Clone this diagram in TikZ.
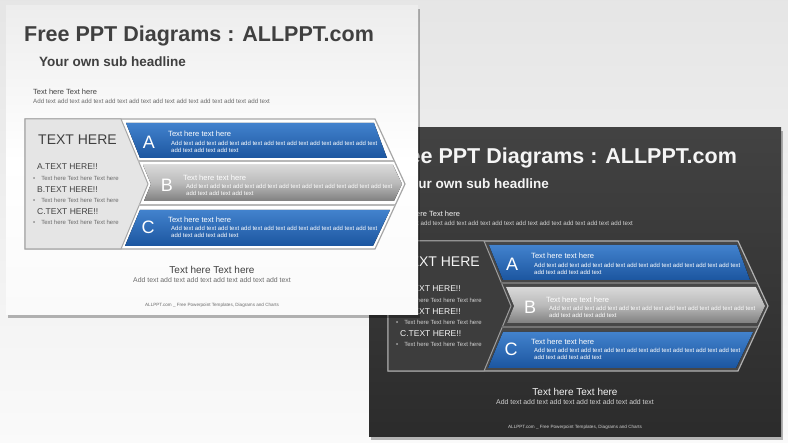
\documentclass[tikz,border=0pt]{standalone}
\usepackage{fontspec}
\setmainfont{Liberation Sans}
\usepackage{tikz}
\definecolor{bluetop}{RGB}{66,130,205}
\definecolor{bluebot}{RGB}{28,86,160}

% one slide, drawn at the origin of the current scope
\newcommand\pptslide[1]{%
  \fill[slideshadow] (2,3) rectangle (414,312);
  \fill[slidebg] (0,0) rectangle (412,309);
  \node[ink, anchor=west, font=\fontsize{21.5}{24}\selectfont\bfseries] (#1title) at (18,30) {Free PPT Diagrams : ALLPPT.com};
  \node[ink, anchor=west, font=\fontsize{13.5}{16}\selectfont\bfseries] (#1sub) at (33,56) {Your own sub headline};
  \node[ink, anchor=west, font=\fontsize{7.5}{9}\selectfont] (#1lead) at (27,86) {Text here Text here};
  \node[faint, anchor=west, font=\fontsize{6.2}{7}\selectfont] (#1leadtext) at (27,95) {Add text add text add text add text add text add text add text add text add text add text};
  \draw[frame] (19,113) -- (369,113) -- (399,178) -- (369,243) -- (19,243) -- cycle;
  \draw[panelbox] (19,113) -- (115,113) -- (142,178) -- (115,243) -- (19,243) -- cycle;
  \draw[septr] (132,155) -- (388,155);
  \draw[septr] (133,199) -- (389,199);
  \fill[blueband] (120,117) -- (368,117) -- (381,152) -- (134,152) -- cycle;
  \fill[grayband] (137,159) -- (387,159) -- (396,178) -- (388,195) -- (138,195) -- (145,178) -- cycle;
  \fill[blueband] (134,204) -- (384,204) -- (367,240) -- (119,240) -- cycle;
  % left panel
  \node[ink, anchor=west, font=\fontsize{14}{16}\selectfont] (#1head) at (32,134) {TEXT HERE};
  \node[ink, anchor=west, font=\fontsize{8.5}{10}\selectfont] (#1itemA) at (31,161) {A.TEXT HERE!!};
  \node[faint, anchor=west, font=\fontsize{6}{7}\selectfont] (#1noteA) at (27,172) {\textbullet\hspace{6pt}Text here Text here Text here};
  \node[ink, anchor=west, font=\fontsize{8.5}{10}\selectfont] (#1itemB) at (31,184) {B.TEXT HERE!!};
  \node[faint, anchor=west, font=\fontsize{6}{7}\selectfont] (#1noteB) at (27,194) {\textbullet\hspace{6pt}Text here Text here Text here};
  \node[ink, anchor=west, font=\fontsize{8.5}{10}\selectfont] (#1itemC) at (31,206) {C.TEXT HERE!!};
  \node[faint, anchor=west, font=\fontsize{6}{7}\selectfont] (#1noteC) at (27,216) {\textbullet\hspace{6pt}Text here Text here Text here};
  % bands
  \node[letter] (#1A) at (143,136) {A};
  \node[bandhead] (#1Ahead) at (162,128) {Text here text here};
  \node[bandtext] (#1Atext) at (165,140.5) {Add text add text add text add text add text add text add text add text add text\\add text add text add text};
  \node[letter] (#1B) at (161,179) {B};
  \node[bandhead] (#1Bhead) at (177,172) {Text here text here};
  \node[bandtext] (#1Btext) at (180,183.5) {Add text add text add text add text add text add text add text add text add text\\add text add text add text};
  \node[letter] (#1C) at (142,221) {C};
  \node[bandhead] (#1Chead) at (162,214) {Text here text here};
  \node[bandtext] (#1Ctext) at (165,225.5) {Add text add text add text add text add text add text add text add text add text\\add text add text add text};
  % bottom
  \node[ink, font=\fontsize{10}{12}\selectfont] (#1foot) at (206,264) {Text here Text here};
  \node[faint, font=\fontsize{6.9}{8}\selectfont] (#1foottext) at (206,274) {Add text add text add text add text add text add text};
  \node[faint, font=\fontsize{4.6}{5}\selectfont] (#1credit) at (206,299) {ALLPPT.com \_ Free Powerpoint Templates, Diagrams and Charts};
}

\begin{document}
\begin{tikzpicture}[x=1pt, y=-1pt, inner sep=0pt,
  slideshadow/.style={fill=black, opacity=0.28},
  blueband/.style={top color=bluetop, bottom color=bluebot},
  grayband/.style={top color=black!15, bottom color=black!50, middle color=black!27},
  letter/.style={text=white, font=\fontsize{18}{20}\selectfont},
  bandhead/.style={text=white, anchor=west, font=\fontsize{7.6}{9}\selectfont},
  bandtext/.style={text=white, anchor=west, align=left, font=\fontsize{6}{7}\selectfont}]
  \useasboundingbox (0,0) rectangle (788,443);
  \fill[top color=black!10, bottom color=black!2] (0,0) rectangle (788,443);
  % dark slide, behind
  \begin{scope}[shift={(369,128)},
    slidebg/.style={top color=black!74, bottom color=black!83},
    ink/.style={text=black!4},
    faint/.style={text=black!18},
    frame/.style={draw=black!30, line width=1.2pt, fill=black!72},
    panelbox/.style={draw=black!38, line width=1pt, fill=black!76},
    septr/.style={draw=black!55, line width=2.5pt}]
    \pptslide{dark}
  \end{scope}
  % light slide, in front
  \begin{scope}[shift={(6,6)},
    slidebg/.style={top color=black!7, bottom color=black!2, middle color=white},
    ink/.style={text=black!75},
    faint/.style={text=black!58},
    frame/.style={draw=black!35, line width=1.2pt, fill=white},
    panelbox/.style={draw=black!35, line width=1pt, fill=black!10},
    septr/.style={draw=black!28, line width=1.5pt}]
    \pptslide{light}
  \end{scope}
\end{tikzpicture}
\end{document}
